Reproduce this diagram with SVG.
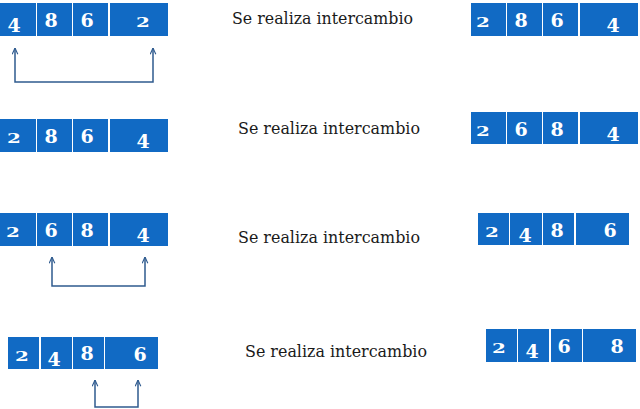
<svg xmlns="http://www.w3.org/2000/svg" width="640" height="409" viewBox="0 0 640 409">
<defs>
<style>
.cell{fill:#116ac4}
.d{font-family:'DejaVu Serif',serif;font-weight:bold;font-size:19px;fill:#ffffff;text-anchor:middle}
.lbl{font-family:'DejaVu Serif',serif;font-size:17.5px;fill:#1a1a1a}
.arr{fill:none;stroke:#2f5b8f;stroke-width:1.5;marker-start:url(#ah);marker-end:url(#ah)}
</style>
<marker id="ah" viewBox="0 0 10 10" refX="10" refY="5" markerWidth="7" markerHeight="7" markerUnits="userSpaceOnUse" orient="auto-start-reverse">
<path d="M1,1 L10,5 L1,9" fill="none" stroke="#2f5b8f" stroke-width="1.6"/>
</marker>
</defs>
<rect width="640" height="409" fill="#ffffff"/>

<g id="row1-before">
<rect class="cell" x="0" y="3" width="36" height="33"/>
<rect class="cell" x="37" y="3" width="35" height="33"/>
<rect class="cell" x="73" y="3" width="35" height="33"/>
<rect class="cell" x="110" y="3" width="58" height="33"/>
<text class="d" x="14" y="32">4</text>
<text class="d" x="51" y="27">8</text>
<text class="d" x="87" y="27">6</text>
<text class="d" transform="translate(143,27) scale(1.05,0.72)">2</text>
</g>
<g id="row1-label"><text class="lbl" x="232" y="24" textLength="181" lengthAdjust="spacingAndGlyphs">Se realiza intercambio</text></g>
<g id="row1-after">
<rect class="cell" x="471" y="3" width="35" height="33"/>
<rect class="cell" x="507" y="3" width="35" height="33"/>
<rect class="cell" x="543" y="3" width="35" height="33"/>
<rect class="cell" x="580" y="3" width="58" height="33"/>
<text class="d" transform="translate(483,27) scale(1.05,0.72)">2</text>
<text class="d" x="521" y="27">8</text>
<text class="d" x="557" y="27">6</text>
<text class="d" x="613" y="32">4</text>
</g>

<g id="row2-before">
<rect class="cell" x="0" y="119" width="36" height="33"/>
<rect class="cell" x="37" y="119" width="35" height="33"/>
<rect class="cell" x="73" y="119" width="35" height="33"/>
<rect class="cell" x="110" y="119" width="58" height="33"/>
<text class="d" transform="translate(14,143) scale(1.05,0.72)">2</text>
<text class="d" x="51" y="143">8</text>
<text class="d" x="87" y="143">6</text>
<text class="d" x="143" y="148">4</text>
</g>
<g id="row2-label"><text class="lbl" x="238" y="134" textLength="182" lengthAdjust="spacingAndGlyphs">Se realiza intercambio</text></g>
<g id="row2-after">
<rect class="cell" x="471" y="112" width="35" height="32"/>
<rect class="cell" x="507" y="112" width="35" height="32"/>
<rect class="cell" x="543" y="112" width="35" height="32"/>
<rect class="cell" x="580" y="112" width="58" height="32"/>
<text class="d" transform="translate(483,136) scale(1.05,0.72)">2</text>
<text class="d" x="521" y="136">6</text>
<text class="d" x="557" y="136">8</text>
<text class="d" x="613" y="141">4</text>
</g>

<g id="row3-before">
<rect class="cell" x="0" y="213" width="36" height="33"/>
<rect class="cell" x="37" y="213" width="35" height="33"/>
<rect class="cell" x="73" y="213" width="35" height="33"/>
<rect class="cell" x="110" y="213" width="58" height="33"/>
<text class="d" transform="translate(13,237) scale(1.05,0.72)">2</text>
<text class="d" x="51" y="237">6</text>
<text class="d" x="87" y="237">8</text>
<text class="d" x="143" y="242">4</text>
</g>
<g id="row3-label"><text class="lbl" x="238" y="243" textLength="182" lengthAdjust="spacingAndGlyphs">Se realiza intercambio</text></g>
<g id="row3-after">
<rect class="cell" x="478" y="213" width="31" height="32"/>
<rect class="cell" x="510" y="213" width="32" height="32"/>
<rect class="cell" x="543" y="213" width="31" height="32"/>
<rect class="cell" x="576" y="213" width="53" height="32"/>
<text class="d" transform="translate(492,237) scale(1.05,0.72)">2</text>
<text class="d" x="525" y="242">4</text>
<text class="d" x="557" y="237">8</text>
<text class="d" x="610" y="237">6</text>
</g>

<g id="row4-before">
<rect class="cell" x="8" y="337" width="31" height="32"/>
<rect class="cell" x="41" y="337" width="31" height="32"/>
<rect class="cell" x="73" y="337" width="31" height="32"/>
<rect class="cell" x="105" y="337" width="53" height="32"/>
<text class="d" transform="translate(22,361) scale(1.05,0.72)">2</text>
<text class="d" x="54" y="366">4</text>
<text class="d" x="87" y="360">8</text>
<text class="d" x="140" y="361">6</text>
</g>
<g id="row4-label"><text class="lbl" x="245" y="357" textLength="182" lengthAdjust="spacingAndGlyphs">Se realiza intercambio</text></g>
<g id="row4-after">
<rect class="cell" x="486" y="329" width="31" height="33"/>
<rect class="cell" x="518" y="329" width="31" height="33"/>
<rect class="cell" x="551" y="329" width="31" height="33"/>
<rect class="cell" x="583" y="329" width="53" height="33"/>
<text class="d" transform="translate(499,353) scale(1.05,0.72)">2</text>
<text class="d" x="532" y="358">4</text>
<text class="d" x="564" y="353">6</text>
<text class="d" x="617" y="353">8</text>
</g>

<g id="connectors">
<path class="arr" d="M15,48 L15,82 L153,82 L153,48"/>
<path class="arr" d="M52,257 L52,286 L145,286 L145,257"/>
<path class="arr" d="M95,380 L95,407 L138,407 L138,380"/>
</g>
</svg>
